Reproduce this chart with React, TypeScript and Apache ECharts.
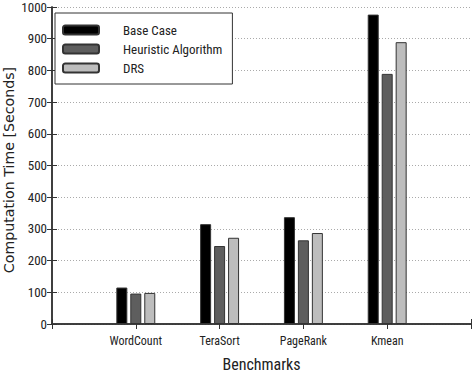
import React, { useEffect, useRef } from "react";
import * as echarts from "echarts";

const categories = ["WordCount", "TeraSort", "PageRank", "Kmean"];
const seriesNames = ["Base Case", "Heuristic Algorithm", "DRS"];
const baseCase = [115, 315, 337, 976];
const heuristic = [96, 246, 264, 789];
const drs = [98, 272, 287, 889];
const yTicks = [0, 100, 200, 300, 400, 500, 600, 700, 800, 900, 1000];
const yTitle = "Computation Time [Seconds]";
const xTitle = "Benchmarks";

const FONT = "Roboto Condensed";
const colors = ["#000000", "#5e5e5e", "#bdbdbd"];

export default function App() {
  const ref = useRef<HTMLDivElement>(null);
  useEffect(() => {
    if (!ref.current) return;
    const chart = echarts.init(ref.current, undefined, { renderer: "svg" });
    const values = [baseCase, heuristic, drs];
    const axisLine = { show: true, lineStyle: { color: "#333", width: 1.5 } };
    const tick = { show: true, inside: true, length: 5, lineStyle: { color: "#333" } };
    chart.setOption({
      animation: false,
      backgroundColor: "#fff",
      textStyle: { fontFamily: FONT },
      grid: { left: 52, right: 3, top: 7, bottom: 48, containLabel: false, outerBoundsMode: "none" },
      legend: {
        orient: "vertical",
        left: 55,
        top: 13,
        data: seriesNames,
        itemWidth: 36,
        itemHeight: 9,
        itemGap: 5,
        padding: [10, 10, 9, 7],
        borderColor: "#333",
        borderWidth: 1,
        backgroundColor: "#fff",
        textStyle: { fontFamily: FONT, fontSize: 13, lineHeight: 14, color: "#222", padding: [0, 0, 0, 19] },
      },
      graphic: [
        {
          type: "text",
          x: 9,
          y: 170,
          rotation: Math.PI / 2,
          style: {
            text: yTitle,
            fontFamily: "DejaVu Sans",
            fontSize: 14.2,
            fill: "#222",
            align: "center",
            verticalAlign: "middle",
          },
        },
      ],
      xAxis: [
        {
          type: "value",
          min: 0,
          max: 5,
          interval: 1,
          position: "bottom",
          name: xTitle,
          nameLocation: "middle",
          nameGap: 32,
          nameTextStyle: { fontFamily: FONT, fontSize: 16, color: "#222" },
          axisLine,
          axisTick: tick,
          axisLabel: {
            fontFamily: FONT,
            fontSize: 12,
            color: "#222",
            margin: 11,
            formatter: (v: number) => categories[v - 1] ?? "",
          },
          splitLine: { show: false },
        },
        {
          type: "value",
          min: 0,
          max: 5,
          interval: 1,
          position: "top",
          axisLine,
          axisTick: tick,
          axisLabel: { show: false },
          splitLine: { show: false },
        },
      ],
      yAxis: [
        {
          type: "value",
          min: 0,
          max: 1000,
          interval: 100,
          axisLine,
          axisTick: tick,
          axisLabel: {
            fontFamily: FONT,
            fontSize: 13,
            color: "#222",
            margin: 5,
            formatter: (v: number) => (yTicks.includes(v) ? String(v) : ""),
          },
          splitLine: { show: true, lineStyle: { type: [1, 2], color: "#aaa", width: 1 } },
        },
        {
          type: "value",
          min: 0,
          max: 1000,
          interval: 100,
          position: "right",
          axisLine,
          axisTick: tick,
          axisLabel: { show: false },
          splitLine: { show: false },
        },
      ],
      series: seriesNames.map((name, i) => ({
        name,
        type: "bar",
        xAxisIndex: 0,
        yAxisIndex: 0,
        barWidth: 11,
        barGap: "27%",
        itemStyle: { color: colors[i], borderColor: "#333", borderWidth: 1 },
        data: values[i].map((v, j) => [j + 1, v]),
      })),
    });
    return () => chart.dispose();
  }, []);
  return <div ref={ref} style={{ width: 474, height: 372, position: "absolute", left: 0, top: 0 }} />;
}
